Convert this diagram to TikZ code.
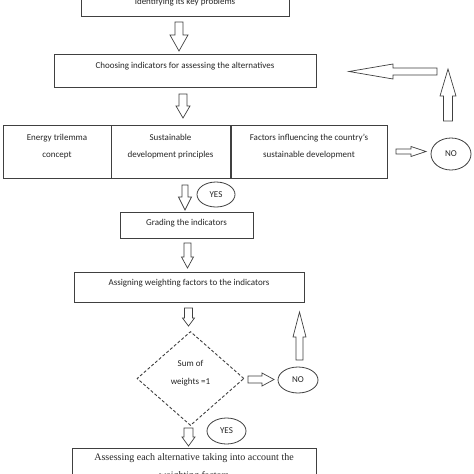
\documentclass[tikz,border=0pt]{standalone}
\usepackage{fontspec}
\setmainfont{Carlito}
\newfontfamily\serifbox{Liberation Serif}
\usetikzlibrary{shapes.geometric}
\definecolor{ln}{HTML}{404040}
\definecolor{tx}{HTML}{262626}
\newcommand\blockarr[7]{%
  \draw[barrow, shift={(#1,#2)}, rotate=#3]
    (0,-#5) -- ({#4-#7},-#5) -- ({#4-#7},-#6) -- (#4,0) -- ({#4-#7},#6) -- ({#4-#7},#5) -- (0,#5) -- cycle;}
\tikzset{
  box/.style={draw=ln, line width=0.9pt, rectangle, inner sep=0pt},
  txt/.style={text=tx, font=\fontsize{9}{17.5}\selectfont, align=center, inner sep=0pt},
  oval/.style={draw=ln, line width=0.8pt, ellipse, inner sep=0pt, text=tx, font=\fontsize{9}{11}\selectfont},
  dia/.style={draw=ln, line width=0.9pt, diamond, dash pattern=on 3pt off 2pt, inner sep=0pt},
  barrow/.style={draw=ln, line width=0.7pt, fill=white},
}
\begin{document}
\begin{tikzpicture}[x=1pt,y=-1pt]
\useasboundingbox (0,0) rectangle (474,474);
\clip (0,0) rectangle (474,474);
\fill[white] (0,0) rectangle (474,474);
% top box
\node[box, minimum width=208pt, minimum height=28pt] (top) at (185,2) {};
\node[txt] (topT) at (185,2.5) {Identifying its key problems};
% choosing
\node[box, minimum width=262pt, minimum height=33pt] (choose) at (185,70.5) {};
\node[txt] (chooseT) at (185,65.7) {Choosing indicators for assessing the alternatives};
% row
\node[box, minimum width=108pt, minimum height=53pt] (rowA) at (57,151.5) {};
\node[box, minimum width=119pt, minimum height=53pt] (rowB) at (170.5,151.5) {};
\node[box, minimum width=156pt, minimum height=53pt] (rowC) at (309,151.5) {};
\node[txt] (rowAT) at (rowA.center) [yshift=5pt] {Energy trilemma\\concept};
\node[txt] (rowBT) at (rowB.center) [yshift=5pt] {Sustainable\\development principles};
\node[txt] (rowCT) at (rowC.center) [yshift=5pt] {Factors influencing the country’s\\sustainable development};
% NO top
\node[oval, minimum width=40pt, minimum height=32pt] (noA) at (451,154) {NO};
% YES 1
\node[oval, minimum width=38pt, minimum height=25pt] (yesA) at (216,194.5) {YES};
% grading
\node[box, minimum width=133pt, minimum height=26pt] (grade) at (186.5,225) {};
\node[txt] (gradeT) at (186.5,223) {Grading the indicators};
% assigning
\node[box, minimum width=230pt, minimum height=30pt] (assign) at (189,287) {};
\node[txt] (assignT) at (189,283) {Assigning weighting factors to the indicators};
% diamond
\node[dia, minimum width=107pt, minimum height=94pt] (sum) at (190.5,378.5) {};
\node[txt] (sumT) at (190.5,373) {Sum of\\weights =1};
% NO lower
\node[oval, minimum width=40pt, minimum height=26pt] (noB) at (298,380) {NO};
% YES 2
\node[oval, minimum width=39pt, minimum height=26pt] (yesB) at (226.5,431) {YES};
% last box
\node[box, minimum width=244pt, minimum height=44pt] (last) at (194,470) {};
\node[txt, font=\serifbox\fontsize{10}{18}\selectfont] (lastT) at (194,467) {Assessing each alternative taking into account the\\weighting factors};
% block arrows: x y angle L shaft-half head-half head-length
\blockarr{179}{22}{-90}{29}{4}{9}{16}
\blockarr{183}{94}{-90}{24}{4}{7}{12}
\blockarr{437}{71.5}{180}{88}{3.5}{7.5}{44}
\blockarr{448}{121}{90}{52}{4.5}{8}{27}
\blockarr{396}{151.5}{0}{30}{2.5}{5}{15}
\blockarr{185}{185}{-90}{25}{3}{6.5}{13}
\blockarr{187.5}{243}{-90}{25}{3.5}{6}{11}
\blockarr{188.5}{308}{-90}{18}{4}{6}{8}
\blockarr{248}{379.5}{0}{26}{3.5}{6.5}{12}
\blockarr{299.5}{360}{90}{48}{3.5}{6.5}{25}
\blockarr{188.5}{428}{-90}{18}{4.5}{6.5}{9}
\end{tikzpicture}
\end{document}
